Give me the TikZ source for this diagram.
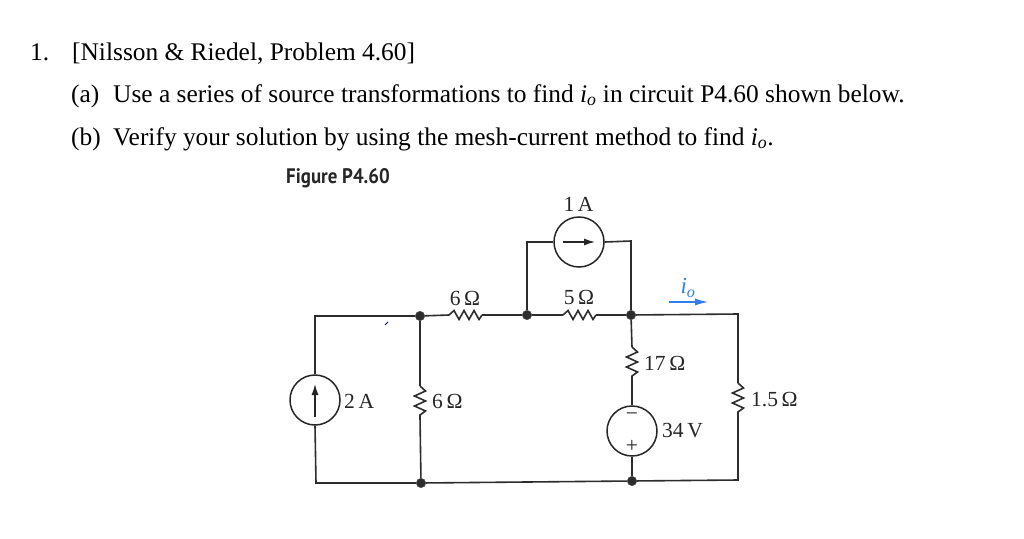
\documentclass[tikz,border=0pt]{standalone}
\usepackage{fontspec}
\setmainfont{Liberation Serif}
\newfontfamily\figfont[FakeStretch=0.9]{PT Sans}
\usetikzlibrary{arrows.meta,calc}
\definecolor{wire}{RGB}{45,45,45}
\definecolor{iblue}{RGB}{50,125,235}
\tikzset{
  x=1pt,y=-1pt,
  wirep/.style={draw=wire,line width=1.6pt,line join=miter},
  dot/.style={circle,fill=wire,draw=black!70,line width=.4pt,inner sep=0pt,minimum size=9.5pt},
  src/.style={circle,draw=black!85,line width=1.5pt,inner sep=0pt,minimum size=50pt},
  body/.style={anchor=base west,inner sep=0pt,font=\fontsize{25.4}{28}\selectfont,text=black},
  lab/.style={anchor=west,inner sep=0pt,font=\fontsize{21.5}{22}\selectfont,text=black!85},
  labc/.style={anchor=center,inner sep=0pt,font=\fontsize{21.5}{22}\selectfont,text=black!85},
  figlab/.style={anchor=base west,inner sep=0pt,font=\figfont\bfseries\fontsize{21}{24}\selectfont,text=black!85},
  srcarrow/.style={draw=black!85,line width=1.3pt,-{Latex[length=11pt,width=7pt]}},
}
\newcommand{\hres}[2]{%
  \draw[wirep] (#1) -- ++(5,-4.5) -- ++(5,9) -- ++(5,-9) -- ++(5,9) -- ++(5,-9) -- ++(5,9) -- (#2);}
\newcommand{\vres}[2]{%
  \draw[wirep] (#1) -- ++(5.5,5) -- ++(-11,5) -- ++(11,5) -- ++(-11,5) -- ++(11,5) -- ++(-5.5,4) -- (#2);}
\begin{document}
\begin{tikzpicture}
\useasboundingbox (0,0) rectangle (1024,538);
\fill[white] (0,0) rectangle (1024,538);
% text
\node[body] (t1) at (30,60) {1.};
\node[body] (t2) at (72,60) {[Nilsson \& Riedel, Problem 4.60]};
\node[body] (t3a) at (71,102) {(a)};
\node[body] (t3) at (113,102) {Use a series of source transformations to find \textit{i}\textsubscript{\textit{o}} in circuit P4.60 shown below.};
\node[body] (t4a) at (71,145) {(b)};
\node[body] (t4) at (113,145) {Verify your solution by using the mesh-current method to find \textit{i}\textsubscript{\textit{o}}.};
\node[figlab] (fig) at (286,183) {Figure P4.60};
% junctions
\node[dot] (n1) at (420,316) {};
\node[dot] (n2) at (527,315) {};
\node[dot] (n3) at (631,315) {};
\node[dot] (n4) at (421,483) {};
\node[dot] (n5) at (632,481) {};
\coordinate (tl) at (315,316);
\coordinate (bl) at (316,483);
\coordinate (tr) at (738,314);
\coordinate (br) at (738,480);
\coordinate (ul) at (527,242);
\coordinate (ur) at (631,241);
% sources
\node[src] (s1) at (579,242) {};
\node[src] (s2) at (315,400) {};
\node[src] (s3) at (632,431) {};
% resistor ends
\coordinate (r1a) at (449,315); \coordinate (r1b) at (482,315);
\coordinate (r2a) at (563,315); \coordinate (r2b) at (596,315);
\coordinate (r3a) at (420,386); \coordinate (r3b) at (420,417);
\coordinate (r4a) at (632,347); \coordinate (r4b) at (632,378);
\coordinate (r5a) at (738,383); \coordinate (r5b) at (738,414);
% wires
\draw[wirep] (s2.north) -- (tl) -- (n1);
\draw[wirep] (n1) -- (r1a); \hres{r1a}{r1b}
\draw[wirep] (r1b) -- (n2) -- (r2a); \hres{r2a}{r2b}
\draw[wirep] (r2b) -- (n3) -- (tr) -- (r5a); \vres{r5a}{r5b}
\draw[wirep] (r5b) -- (br) -- (n5) -- (n4) -- (bl) -- (s2.south);
\draw[wirep] (n1) -- (r3a); \vres{r3a}{r3b}
\draw[wirep] (r3b) -- (n4);
\draw[wirep] (n3) -- (r4a); \vres{r4a}{r4b}
\draw[wirep] (r4b) -- (s3.north);
\draw[wirep] (s3.south) -- (n5);
\draw[wirep] (n2) -- (ul) -- (s1.west);
\draw[wirep] (s1.east) -- (ur) -- (n3);
% source symbols
\coordinate (a1) at (563,242); \coordinate (a2) at (595,242);
\draw[srcarrow] (a1) -- (a2);
\coordinate (a3) at (315,417); \coordinate (a4) at (315,384);
\draw[srcarrow] (a3) -- (a4);
\node[labc] (minus) at (632,417) {\char"2212};
\node[labc] (plus) at (632,446) {+};
% io arrow
\coordinate (i1) at (669,302); \coordinate (i2) at (708,302);
\draw[draw=iblue,line width=1.1pt,-{Latex[length=13pt,width=7pt]}] (i1) -- (i2);
\node[labc,text=iblue,font=\fontsize{23}{24}\selectfont] (io) at (688,288) {\textit{i}\textsubscript{\textit{o}}};
% labels
\node[labc] (l1a) at (578.5,204) {1\,A};
\node[labc] (l6a) at (465,298) {6\,Ω};
\node[labc] (l5) at (579,297) {5\,Ω};
\node[lab] (l2a) at (344,401) {2\,A};
\node[lab] (l6b) at (432,401) {6\,Ω};
\node[lab] (l17) at (644,363) {17\,Ω};
\node[lab] (l34) at (662,431) {34\,V};
\node[lab] (l15) at (751,400) {1.5\,Ω};
% speck
\coordinate (sp1) at (385,325); \coordinate (sp2) at (388,322);
\draw[draw=blue!60!black,line width=1pt] (sp1) -- (sp2);
\end{tikzpicture}
\end{document}
